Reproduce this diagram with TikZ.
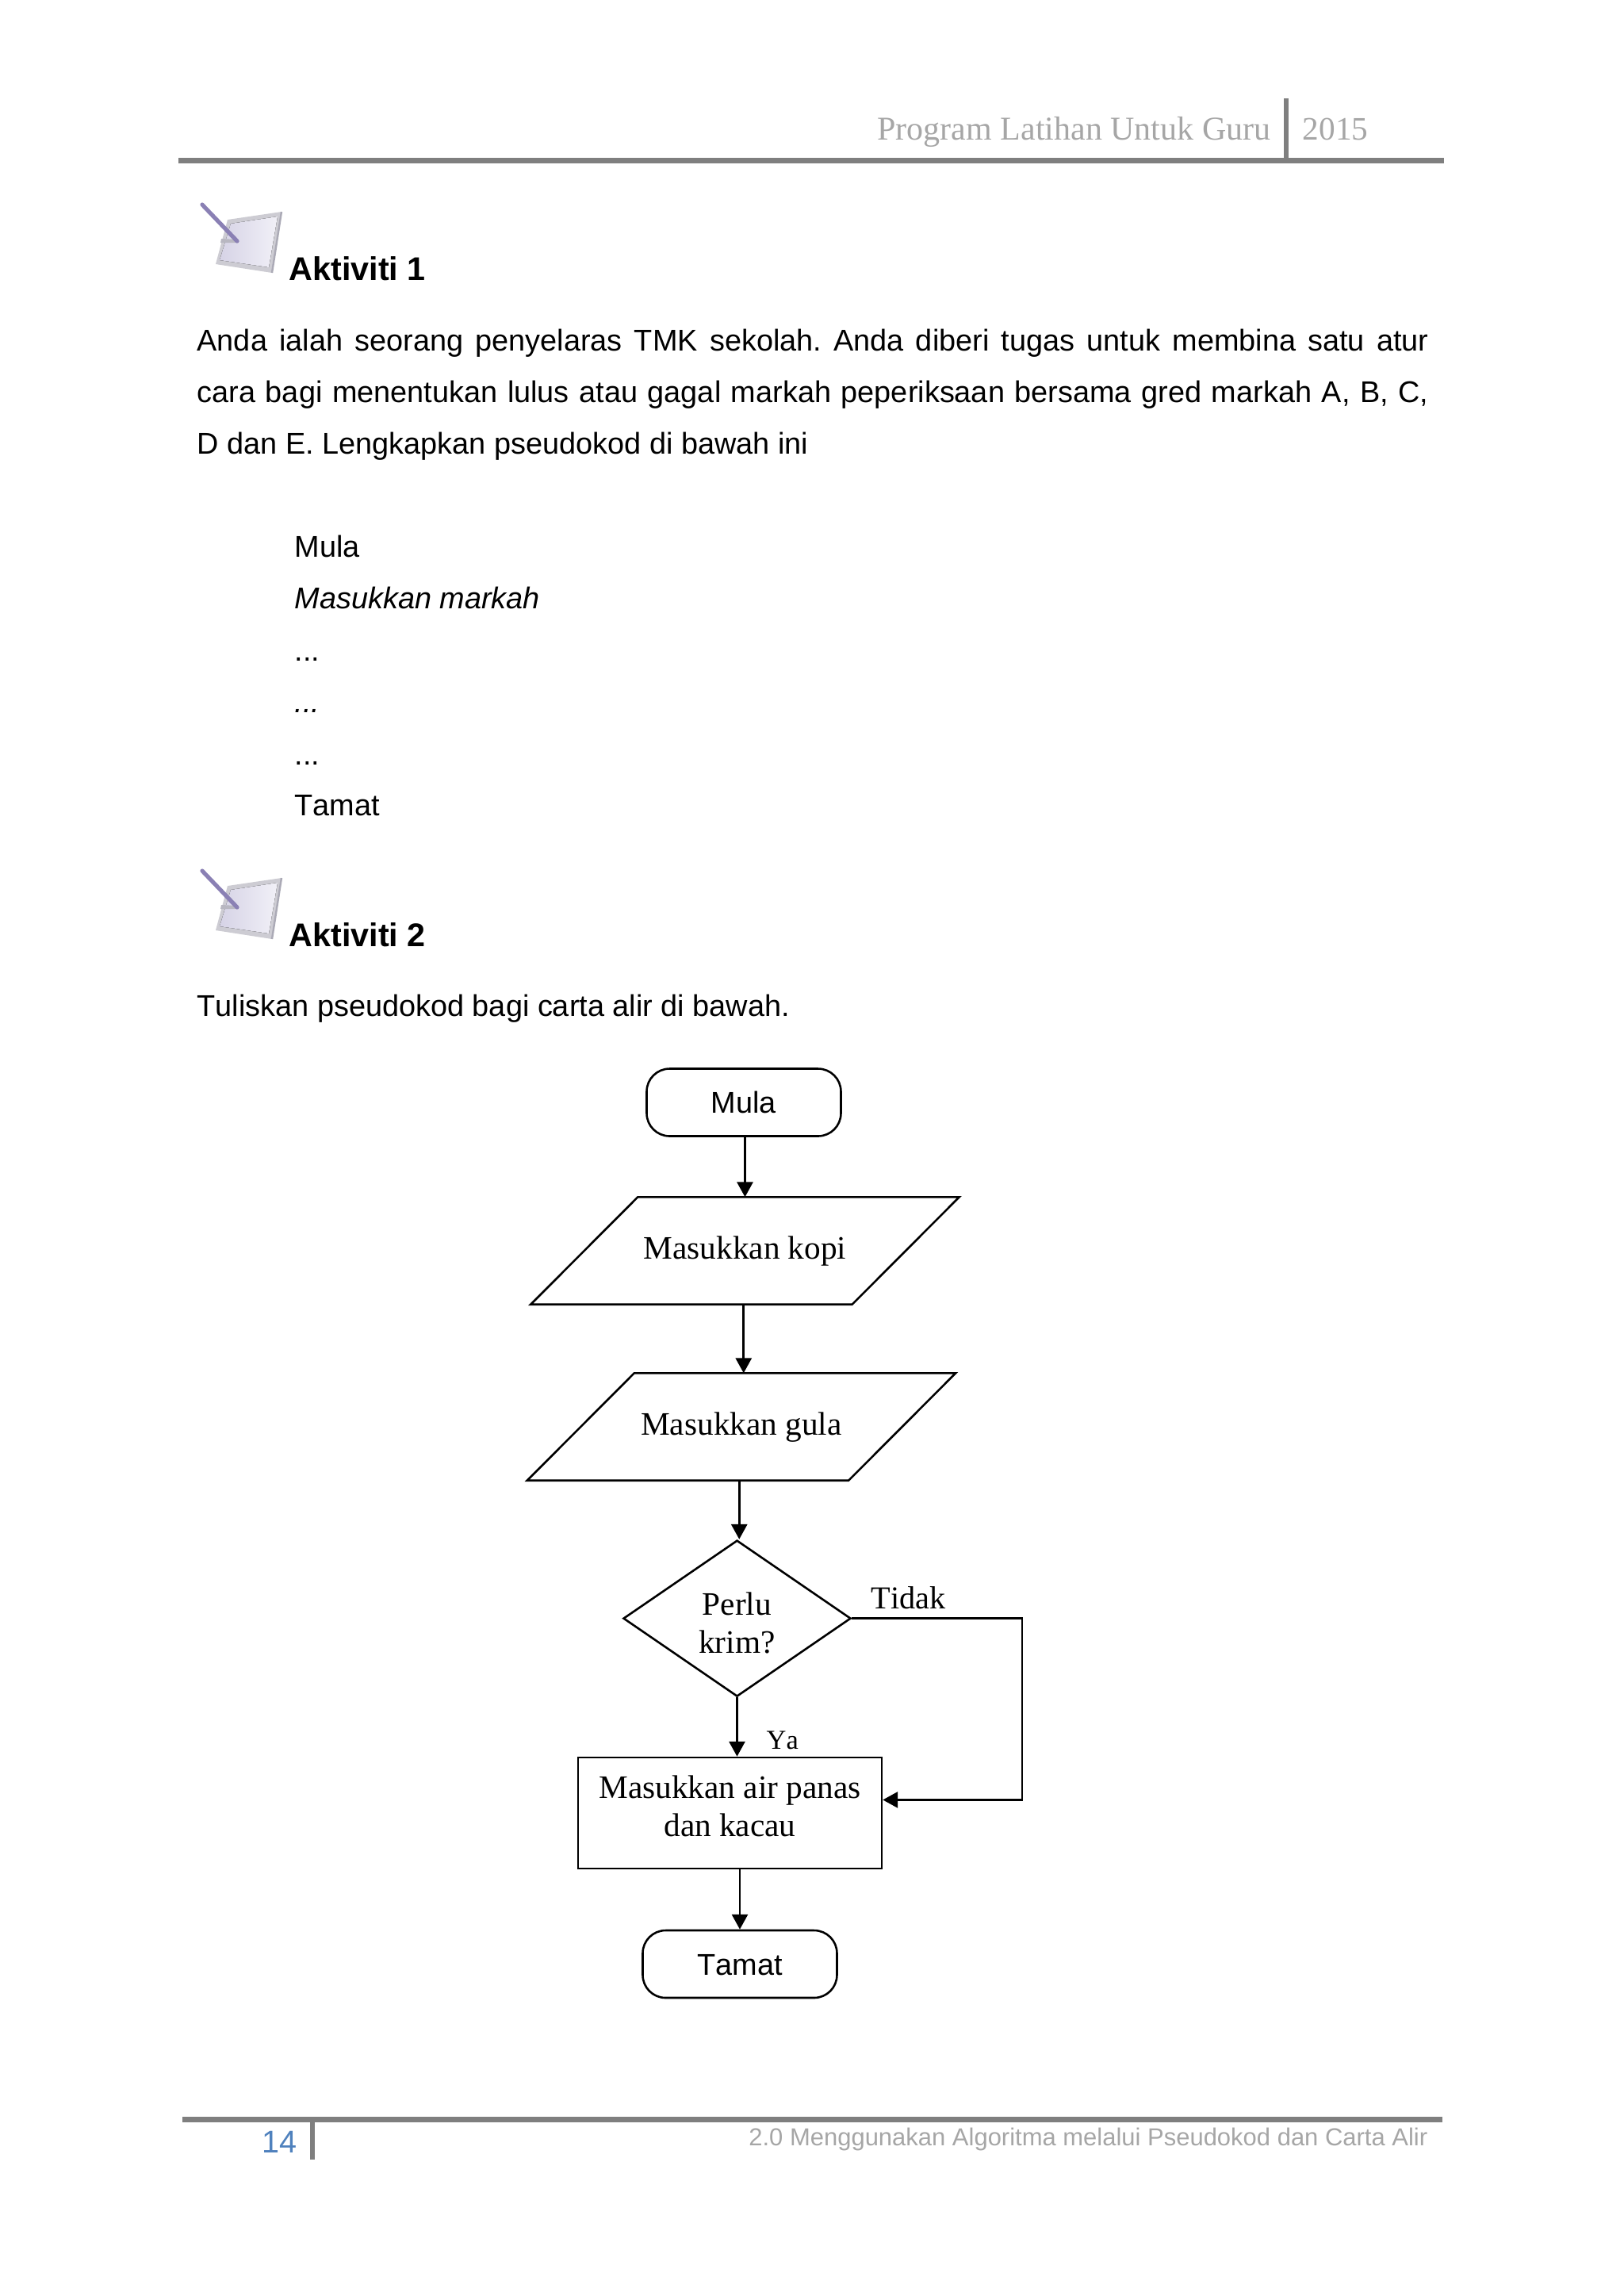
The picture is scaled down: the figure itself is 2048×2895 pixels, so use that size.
\documentclass[tikz,border=0pt]{standalone}
\usepackage{fontspec}
\setmainfont[Kerning=Off]{Liberation Serif}
\setsansfont[Kerning=Off]{Liberation Sans}
\usetikzlibrary{arrows.meta,shapes.geometric,calc}
\definecolor{rulegray}{HTML}{7F7F7F}
\definecolor{headgray}{HTML}{A6A6A6}
\definecolor{pageblue}{HTML}{4F81BD}
\definecolor{penpurple}{HTML}{8A80B4}
\definecolor{tabletedge}{HTML}{ABAAB6}
\definecolor{tabletlo}{HTML}{D6D3E6}
\definecolor{tablethi}{HTML}{F1F0F7}
\def\un{0.2905pt}
\tikzset{
  flow/.style={draw=black, line width=0.75pt},
  link/.style={line width=0.85pt, ->},
  terminal/.style={flow, rectangle, rounded corners=8.4pt, inner sep=0pt,
    minimum width=245*\un, minimum height=85*\un,
    font=\sffamily\fontsize{11}{13}\selectfont, text height=8pt, text depth=0pt},
  inputbox/.style={rectangle, inner sep=0pt, minimum width=404*\un, minimum height=134*\un,
    font=\fontsize{12}{13.8}\selectfont, text height=8.5pt, text depth=2.5pt},
  tablet/.pic={
    \fill[tabletedge!60] (47,32) -- (115,22) -- (103,99) -- (32,88) -- cycle;
    \fill[left color=tabletlo, right color=tablethi] (51,37) -- (110,28) -- (99,92) -- (37,83) -- cycle;
    \draw[tabletedge, line width=0.7pt] (115,22) -- (103,99);
    \fill[tabletedge!85] (39,56) -- (60,57) -- (61,61) -- (38,61) -- cycle;
    \draw[penpurple, line width=1.5pt, line cap=round] (15,13) -- (59,59);
  }
}
\begin{document}
\begin{tikzpicture}[x=0.2905pt, y=-0.2905pt, >={Triangle[length=5.5pt,width=5.8pt]}]
\useasboundingbox (0,0) rectangle (2048,2895);
% header and footer
\fill[rulegray] (225,199) rectangle (1821,206);
\fill[rulegray] (1619,124) rectangle (1625,199);
\node[anchor=base east, inner sep=0pt, headgray, font=\fontsize{12.2}{14}\selectfont] (prog) at (1603,176) {Program Latihan Untuk Guru};
\node[anchor=base west, inner sep=0pt, headgray, font=\fontsize{12}{14}\selectfont] (year) at (1642,176) {2015};
\fill[rulegray] (230,2669) rectangle (1819,2676);
\fill[rulegray] (391,2676) rectangle (397,2723);
\node[anchor=base east, inner sep=0pt, pageblue, font=\sffamily\fontsize{11.5}{14}\selectfont] (pageno) at (375,2714) {14};
\node[anchor=base east, inner sep=0pt, headgray, font=\sffamily\fontsize{9}{12}\selectfont] (chapter) at (1801,2705) {2.0 Menggunakan Algoritma melalui Pseudokod dan Carta Alir};
% activity 1
\pic at (240,245) {tablet};
\node[anchor=base west, inner sep=0pt, font=\sffamily\bfseries\fontsize{12}{14}\selectfont] (akt1) at (364,353) {Aktiviti 1};
\node[anchor=north west, inner sep=0pt, text width=1553*\un, align=justify, font=\sffamily\fontsize{11}{18.9}\selectfont\frenchspacing] (para) at (248,414)
  {Anda ialah seorang penyelaras TMK sekolah. Anda diberi tugas untuk membina satu atur\linebreak
   cara bagi menentukan lulus atau gagal markah peperiksaan bersama gred markah A, B, C,\linebreak
   D dan E. Lengkapkan pseudokod di bawah ini};
\foreach \y/\lbl in {
    702/{Mula},
    767/{\itshape Masukkan markah},
    833/{...},
    898/{\itshape ...},
    964/{...},
    1028/{Tamat}}{
  \node[anchor=base west, inner sep=0pt, font=\sffamily\fontsize{11}{13}\selectfont] at (371,\y) {\lbl};
}
% activity 2
\pic at (240,1085) {tablet};
\node[anchor=base west, inner sep=0pt, font=\sffamily\bfseries\fontsize{12}{14}\selectfont] (akt2) at (364,1193) {Aktiviti 2};
\node[anchor=base west, inner sep=0pt, font=\sffamily\fontsize{11}{13}\selectfont] (ask) at (248,1281) {Tuliskan pseudokod bagi carta alir di bawah.};
% flowchart
\node[terminal] (mula) at (938,1390) {Mula};
\node[inputbox] (kopi) at (939.5,1577) {Masukkan kopi};
\node[inputbox] (gula) at (935,1799) {Masukkan gula};
\foreach \n in {kopi,gula}{
  \draw[flow] ($(\n.north west)+(67.5,0)$) -- ($(\n.north east)+(67.5,0)$) -- ($(\n.south east)-(67.5,0)$) -- ($(\n.south west)-(67.5,0)$) -- cycle;
}
\node[flow, diamond, inner sep=0pt, aspect=1.46, minimum width=287*\un, minimum height=197*\un, align=center,
      font=\fontsize{12}{14}\selectfont] (krim) at (929.5,2040.6) {\rule{0pt}{11.5pt}Perlu\\krim?};
\node[flow, rectangle, inner sep=0pt, minimum width=383*\un, minimum height=140*\un, align=center,
      font=\fontsize{12}{13.8}\selectfont] (kacau) at (920.5,2286) {Masukkan air panas\\dan kacau\rule[-5.2pt]{0pt}{0pt}};
\node[terminal] (tamat) at (933,2476.5) {Tamat};
\coordinate (turn) at (1289,2269.4);
\draw[link] (kopi.north |- mula.south) -- (kopi.north);
\draw[link] ([xshift=-0.5pt]kopi.south) -- ([xshift=-0.5pt]kopi.south |- gula.north);
\draw[link] ([xshift=-0.8pt]gula.south) -- ([xshift=-0.8pt]gula.south |- krim.north);
\draw[link] (krim.south) -- (krim.south |- kacau.north);
\draw[link] (tamat.north |- kacau.south) -- (tamat.north);
\draw[link] (krim.east) -| (turn) -- (kacau.east |- turn);
\node[anchor=base west, inner sep=0pt, font=\fontsize{11.7}{14}\selectfont] (tidak) at (1098,2028.7) {Tidak};
\node[anchor=base west, inner sep=0pt, font=\fontsize{10}{12}\selectfont] (ya) at (966,2205.4) {Ya};
\end{tikzpicture}
\end{document}
